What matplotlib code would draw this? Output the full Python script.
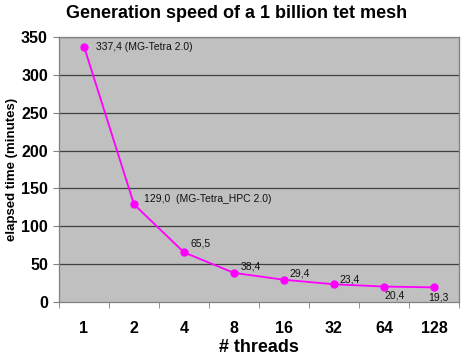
import matplotlib
matplotlib.use("Agg")
import matplotlib.pyplot as plt

categories = ["1", "2", "4", "8", "16", "32", "64", "128"]
values = [337.4, 129.0, 65.5, 38.4, 29.4, 23.4, 20.4, 19.3]
labels = ["337,4 (MG-Tetra 2.0)", "129,0  (MG-Tetra_HPC 2.0)", "65,5", "38,4",
          "29,4", "23,4", "20,4", "19,3"]
yticks = [0, 50, 100, 150, 200, 250, 300, 350]

plt.rcParams['font.family'] = ['Liberation Sans', 'DejaVu Sans']

fig = plt.figure(figsize=(4.74, 3.63), dpi=100)
ax = fig.add_axes([59/474, 61/363, 400/474, 265/363])
ax.set_facecolor('#C0C0C0')
x = list(range(len(categories)))
ax.plot(x, values, color='#FF00FF', lw=1.3, marker='o', ms=5, zorder=3)
ax.set_xlim(-0.5, len(categories) - 0.5)
ax.set_ylim(0, 350)
ax.set_yticks(yticks)
ax.set_yticklabels([str(v) for v in yticks], fontsize=11.5, fontweight='bold')
ax.set_xticks(x)
ax.set_xticklabels(categories, fontsize=11.5, fontweight='bold')
ax.tick_params(axis='x', length=0, pad=14)
ax.set_xticks([i + 0.5 for i in range(-1, len(categories))], minor=True)
ax.tick_params(axis='x', which='minor', length=4, color='#808080', direction='out')
ax.tick_params(axis='y', length=4, color='#808080', pad=4)
for yv in yticks[1:]:
    ax.axhline(yv, color='#404040', lw=0.9, zorder=1)
for s in ax.spines.values():
    s.set_color('#808080')
    s.set_linewidth(0.9)

offsets = [(9, 0, 'left', 'center'), (7, 0, 'left', 'bottom'), (5, 3, 'left', 'bottom'),
           (5, 1, 'left', 'bottom'), (4, 1, 'left', 'bottom'), (4, 0, 'left', 'bottom'),
           (0, -3, 'left', 'top'), (-4, -4, 'left', 'top')]
for xi, v, lab, (dx, dy, ha, va) in zip(x, values, labels, offsets):
    ax.annotate(lab, (xi, v), xytext=(dx, dy), textcoords='offset points',
                fontsize=7.5, ha=ha, va=va, color='#111111')

ax.set_ylabel('elapsed time (minutes)', fontsize=9.5, fontweight='bold', labelpad=2)
ax.set_xlabel('# threads', fontsize=13, fontweight='bold', labelpad=2)
fig.suptitle('Generation speed of a 1 billion tet mesh', fontsize=13,
             fontweight='bold', y=0.985)
fig.savefig('out.png', dpi=100, facecolor='white')
